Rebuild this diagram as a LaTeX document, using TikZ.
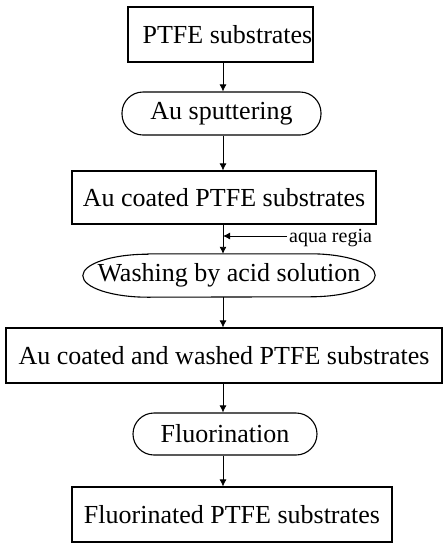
\documentclass[tikz,border=0pt]{standalone}
\usepackage{fontspec}
\setmainfont{Liberation Serif}
\usetikzlibrary{shapes.geometric,arrows.meta}
\begin{document}
\begin{tikzpicture}[x=1pt,y=1pt,
  font=\fontsize{26}{30}\selectfont,
  boxnode/.style={draw,line width=1.1pt,rectangle,inner xsep=0pt,inner ysep=0pt,anchor=center},
  pillnode/.style={draw,line width=1.1pt,rectangle,rounded corners=21pt,inner xsep=0pt,inner ysep=0pt,anchor=center},
  ovalnode/.style={rectangle,inner xsep=0pt,inner ysep=0pt,anchor=center},
  ovalline/.style={line width=1.1pt},
  arr/.style={line width=0.9pt,-{Latex[length=7pt,width=7pt]}}]
\useasboundingbox (0,0) rectangle (446,-550);
\fill[white] (0,0) rectangle (446,-550);
\node[boxnode,minimum width=185pt,minimum height=55pt] (b1) at (220.5,-34.5) {\hspace*{14pt}PTFE substrates};
\node[pillnode,minimum width=199pt,minimum height=43pt] (e1) at (221.5,-113.5) {Au sputtering};
\node[boxnode,minimum width=304pt,minimum height=53pt] (b2) at (224,-197.5) {Au coated PTFE substrates};
\node[ovalnode,minimum width=292pt,minimum height=43pt] (e2) at (229,-275.5) {Washing by acid solution};
\draw[ovalline] ([xshift=65pt]e2.north west) -- ([xshift=-65pt]e2.north east)
  arc[start angle=90,end angle=-90,x radius=65pt,y radius=21.5pt]
  -- ([xshift=65pt]e2.south west)
  arc[start angle=270,end angle=90,x radius=65pt,y radius=21.5pt] -- cycle;
\node[boxnode,minimum width=436pt,minimum height=55pt] (b3) at (224,-355.5) {Au coated and washed PTFE substrates};
\node[pillnode,minimum width=184pt,minimum height=42pt] (e3) at (225,-434) {Fluorination};
\node[boxnode,minimum width=320pt,minimum height=55pt] (b4) at (232,-514.5) {Fluorinated PTFE substrates};
\node[anchor=west,inner sep=0pt,font=\fontsize{20}{22}\selectfont] (aq) at (289,-238) {aqua regia};
\coordinate (ax) at (223,0);
\coordinate (aqs) at (287,-236);
\draw[arr] (b1.south -| ax) -- (e1.north -| ax);
\draw[arr] (e1.south -| ax) -- (b2.north -| ax);
\draw[arr] (b2.south -| ax) -- (e2.north -| ax);
\draw[arr] (aqs) -- (aqs -| ax);
\draw[arr] (e2.south -| ax) -- (b3.north -| ax);
\draw[arr] (b3.south -| ax) -- (e3.north -| ax);
\draw[arr] (e3.south -| ax) -- (b4.north -| ax);
\end{tikzpicture}
\end{document}
